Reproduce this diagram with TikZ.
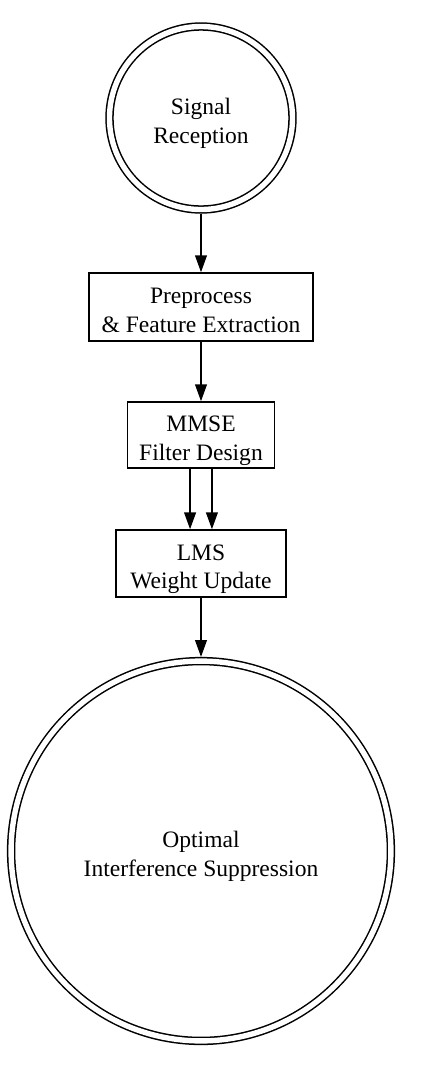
\documentclass[tikz,border=0pt]{standalone}
\usepackage{fontspec}
\setmainfont{Liberation Serif}
\usetikzlibrary{arrows.meta}

\begin{document}
\begin{tikzpicture}[x=0.595pt, y=-0.595pt,
    every node/.style={font=\fontsize{14}{16.8}\selectfont, align=center, line width=0.9pt, text height=30pt, text depth=0pt},
    state/.style={circle, draw, double, double distance=3.2pt, inner sep=0pt, outer sep=2.5pt},
    block/.style={rectangle, draw, inner sep=0pt},
    flow/.style={-{Triangle[length=10pt, width=7pt]}, line width=0.9pt}]
    \useasboundingbox (0,0) rectangle (424,1078);
    \node[state, minimum size=108.9pt](Sig) at (201,118) {Signal\\Reception};
    \node[block, minimum width=133.3pt, minimum height=40.5pt](Pre) at (201,307) {Preprocess\\\& Feature Extraction};
    \draw[flow] (Sig) -- (Pre);
    \node[block, minimum width=87.5pt, minimum height=39.3pt](MMSE) at (201,435) {MMSE\\Filter Design};
    \draw[flow] (Pre) -- (MMSE);
    \node[block, minimum width=101pt, minimum height=39.9pt](LMS) at (201,563.5) {LMS\\Weight Update};
    \draw[flow] ([xshift=-6.5pt]MMSE.south) -- ([xshift=-6.5pt]LMS.north);
    \draw[flow] ([xshift=6.5pt]MMSE.south) -- ([xshift=6.5pt]LMS.north);
    \node[state, minimum size=226pt](Opt) at (201,851) {Optimal\\Interference Suppression};
    \draw[flow] (LMS) -- (Opt);
\end{tikzpicture}
\end{document}
